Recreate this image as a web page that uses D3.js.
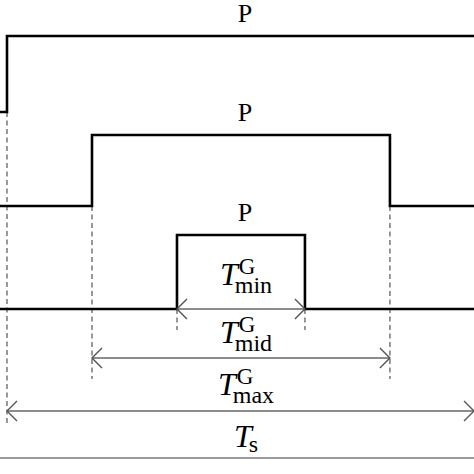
<!DOCTYPE html>
<html>
<head>
<meta charset="utf-8">
<script src="https://cdn.jsdelivr.net/npm/d3@7"></script>
<style>
  html, body { margin: 0; padding: 0; background: #fff; }
  svg { display: block; }
</style>
</head>
<body>
<svg class="svg"></svg>
<script>
// pulse timing, in % of the total period Ts
const pulseLabels = ["P", "P", "P"];
const riseTimes = [0, 18.2, 36.4];
const fallTimes = [null, 82, 63.8];   // first pulse stays on
const spanNames = ["min", "mid", "max", "s"];
const spanStart = [36.4, 18.2, 0, -1.5];
const spanEnd = [63.8, 82, 100, 100];
const spanSup = ["G", "G", "G", ""];

const width = 474, height = 474;
const svg = d3.select(".svg").attr("width", width).attr("height", height);

const x = d3.scaleLinear().domain([0, 100]).range([7, 474]);
const xMin = -1.5, xMax = 100;

// layout of the rows
const rowLow = d3.scaleOrdinal().domain([0, 1, 2]).range([112, 206, 309]);
const rowHigh = d3.scaleOrdinal().domain([0, 1, 2]).range([36, 135, 235]);
const spanY = d3.scaleOrdinal().domain(spanNames).range([309, 358, 411, 458]);
const labelY = d3.scaleOrdinal().domain(spanNames).range([285, 343, 395, 447]);

const font = "'Liberation Serif', 'Times New Roman', serif";
const g = svg.append("g");

// dashed guide lines under each edge
const guides = [];
riseTimes.forEach((t, i) => {
  const k = i === 0 ? "max" : i === 1 ? "mid" : "min";
  guides.push({ t, y0: rowLow(i), y1: spanY(k) + (k === "max" ? 14 : 21) });
  if (fallTimes[i] != null) guides.push({ t: fallTimes[i], y0: rowLow(i), y1: spanY(k) + 21 });
});
g.selectAll("line.guide")
  .data(guides)
  .join("line")
  .attr("class", "guide")
  .attr("x1", d => x(d.t)).attr("x2", d => x(d.t))
  .attr("y1", d => d.y0).attr("y2", d => d.y1)
  .attr("stroke", "#555")
  .attr("stroke-width", 1.2)
  .attr("stroke-dasharray", "5,3.5");

// pulses
const line = d3.line();
g.selectAll("path.pulse")
  .data(pulseLabels.map((p, i) => i))
  .join("path")
  .attr("class", "pulse")
  .attr("fill", "none")
  .attr("stroke", "#000")
  .attr("stroke-width", 2.6)
  .attr("stroke-linejoin", "miter")
  .attr("d", i => {
    const lo = rowLow(i), hi = rowHigh(i);
    const pts = [[x(xMin), lo], [x(riseTimes[i]), lo], [x(riseTimes[i]), hi]];
    if (fallTimes[i] != null) {
      pts.push([x(fallTimes[i]), hi], [x(fallTimes[i]), lo], [x(xMax), lo]);
    } else {
      pts.push([x(xMax), hi]);
    }
    return line(pts);
  });

g.selectAll("text.plabel")
  .data(pulseLabels)
  .join("text")
  .attr("class", "plabel")
  .attr("x", 245)
  .attr("y", (d, i) => rowHigh(i) - 14)
  .attr("text-anchor", "middle")
  .style("font-family", font)
  .style("font-size", "26px")
  .text(d => d);

// double arrows
const spans = spanNames.map((n, i) => ({ name: n, a: spanStart[i], b: spanEnd[i], sup: spanSup[i] }));
const arrows = g.selectAll("g.span").data(spans).join("g").attr("class", "span");
arrows.append("line")
  .attr("x1", d => x(d.a) - (d.name === "s" ? 7 : 0))
  .attr("x2", d => x(d.b))
  .attr("y1", d => spanY(d.name)).attr("y2", d => spanY(d.name))
  .attr("stroke", d => d.name === "s" ? "#7a7a7a" : "#666")
  .attr("stroke-width", 1.6);
const head = (tx, ty, dir) => `M${tx + dir * 10},${ty - 10}L${tx},${ty}L${tx + dir * 10},${ty + 10}`;
arrows.filter(d => d.name !== "s").append("path")
  .attr("fill", "none").attr("stroke", "#555").attr("stroke-width", 1.4)
  .attr("d", d => head(x(d.a), spanY(d.name), 1) + head(x(d.b), spanY(d.name), -1));

// T labels, superscript G and subscript stacked after the T
arrows.each(function (d) {
  const lg = d3.select(this).append("g");
  const t = lg.append("text").style("font-family", font).style("font-style", "italic")
    .style("font-size", "32px").text("T");
  const w = t.node().getComputedTextLength();
  let extra = 0;
  if (d.sup) {
    const s = lg.append("text").style("font-family", font).style("font-size", "23px")
      .attr("x", w + 1).attr("y", -11).text(d.sup);
    extra = Math.max(extra, s.node().getComputedTextLength() + 1);
  }
  const sb = lg.append("text").style("font-family", font).style("font-size", "24px")
    .attr("x", w - 3).attr("y", d.name === "s" ? 5 : 8).text(d.name);
  extra = Math.max(extra, sb.node().getComputedTextLength() - 3);
  lg.attr("transform", `translate(${246 - (w + extra) / 2},${labelY(d.name)})`);
});
</script>
</body>
</html>
